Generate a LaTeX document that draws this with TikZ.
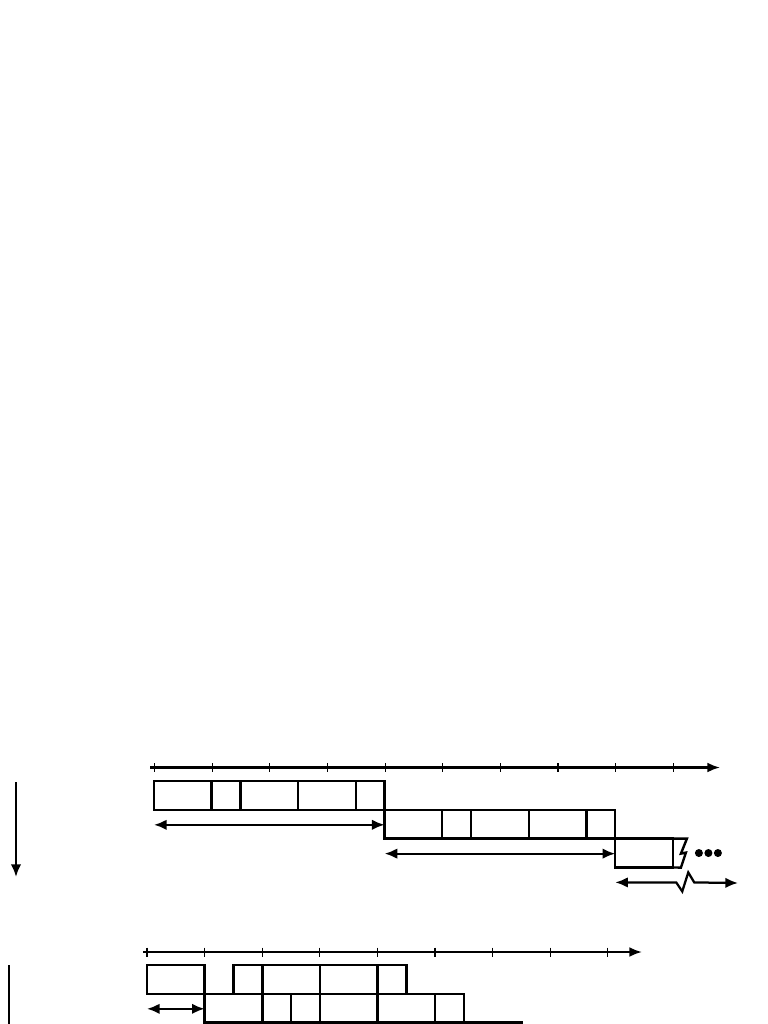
\documentclass[tikz,border=0pt]{standalone}
\usetikzlibrary{positioning,arrows.meta}
\tikzset{
  % Specifications for style of nodes:
  base/.style = {
    rectangle,
    draw=black,
    line width=1.7pt,
    inner sep=0pt,
    outer sep=0pt,
    minimum height=0.72cm
  },
  full/.style = {
    base,
    minimum width=1.441cm
  },
  half/.style = {
    base,
    minimum width=0.7206cm
  },
  % Specifications for style of lines:
  axis/.style = {line width=1.5pt, -{Latex[length=9pt,width=7pt]}},
  tick/.style = {line width=0.8pt},
  span/.style = {line width=1.6pt, {Latex[length=9pt,width=7.5pt]}-{Latex[length=9pt,width=7.5pt]}},
  down/.style = {line width=1.6pt, -{Latex[length=9pt,width=7.5pt]}},
}

\begin{document}
\begin{tikzpicture}[x=0.025cm, y=-0.025cm]
    \clip (0,0) rectangle (768,1024);
    % Upper time axis
    \coordinate (top0) at (150,767.5);
    \coordinate (top1) at (720,767.5);
    \draw[axis] (top0) -- (top1);
    \foreach \k in {0,...,9}
      \draw[tick] (154.5+57.65*\k,763) -- ++(0,9);
    % Specification of nodes (position, etc.)
    \node[full, anchor=north west] (cell0a) at (154,781) {};
    \node[half, right=0cm of cell0a] (cell0b) {};
    \node[full, right=0cm of cell0b] (cell0c) {};
    \node[full, right=0cm of cell0c] (cell0d) {};
    \node[half, right=0cm of cell0d] (cell0e) {};
    \node[full, anchor=north west] (cell1a) at (cell0e.south east) {};
    \node[half, right=0cm of cell1a] (cell1b) {};
    \node[full, right=0cm of cell1b] (cell1c) {};
    \node[full, right=0cm of cell1c] (cell1d) {};
    \node[half, right=0cm of cell1d] (cell1e) {};
    \node[full, anchor=north west] (cell2a) at (cell1e.south east) {};
    \draw[line width=1.7pt] (cell2a.north east) -- ++(14,0) -- ++(-6,15)
      -- ++(5,-1) -- ++(-5,15) -- (cell2a.south east);
    % three dots after the last row
    \foreach \d in {26,35.5,45}
      \fill ([xshift=\d*0.025cm]cell2a.east) circle (0.1cm);
    % Spans below the rows
    \draw[span] ([yshift=-0.375cm]cell0a.south west) -- ([yshift=-0.375cm]cell0e.south east);
    \draw[span] ([yshift=-0.375cm]cell1a.south west) -- ([yshift=-0.375cm]cell1e.south east);
    \coordinate (tail) at (738,883);
    \draw[span] ([yshift=-0.375cm]cell2a.south west) -- ++(61,0) -- ++(6,9)
      -- ++(6,-19) -- ++(6,10) -- (tail);
    \coordinate (flow0) at (16,782);
    \coordinate (flow1) at (16,877);
    \draw[down] (flow0) -- (flow1);
    % Lower time axis
    \coordinate (low0) at (143,952);
    \coordinate (low1) at (642,952);
    \draw[axis] (low0) -- (low1);
    \foreach \k in {0,...,8}
      \draw[tick] (147+57.6*\k,947.5) -- ++(0,9);
    \node[full, anchor=north west] (slot0a) at (147,965) {};
    \node[half, right=0.7206cm of slot0a] (slot0b) {};
    \node[full, right=0cm of slot0b] (slot0c) {};
    \node[full, right=0cm of slot0c] (slot0d) {};
    \node[half, right=0cm of slot0d] (slot0e) {};
    \node[full, anchor=north west] (slot1a) at (slot0a.south east) {};
    \node[half, right=0cm of slot1a] (slot1b) {};
    \node[half, right=0cm of slot1b] (slot1c) {};
    \node[full, right=0cm of slot1c] (slot1d) {};
    \node[full, right=0cm of slot1d] (slot1e) {};
    \node[half, right=0cm of slot1e] (slot1f) {};
    \node[full, anchor=north west] (slot2a) at (slot1a.south east) {};
    \node[half, right=0cm of slot2a] (slot2b) {};
    \node[half, right=0cm of slot2b] (slot2c) {};
    \node[full, right=0cm of slot2c] (slot2d) {};
    \node[full, right=0cm of slot2d] (slot2e) {};
    \node[half, right=0cm of slot2e] (slot2f) {};
    \draw[span] ([yshift=-0.375cm]slot0a.south west) -- ([yshift=-0.375cm]slot0a.south east);
    \coordinate (flow2) at (9,965);
    \coordinate (flow3) at (9,1060);
    \draw[down] (flow2) -- (flow3);
\end{tikzpicture}
\end{document}
